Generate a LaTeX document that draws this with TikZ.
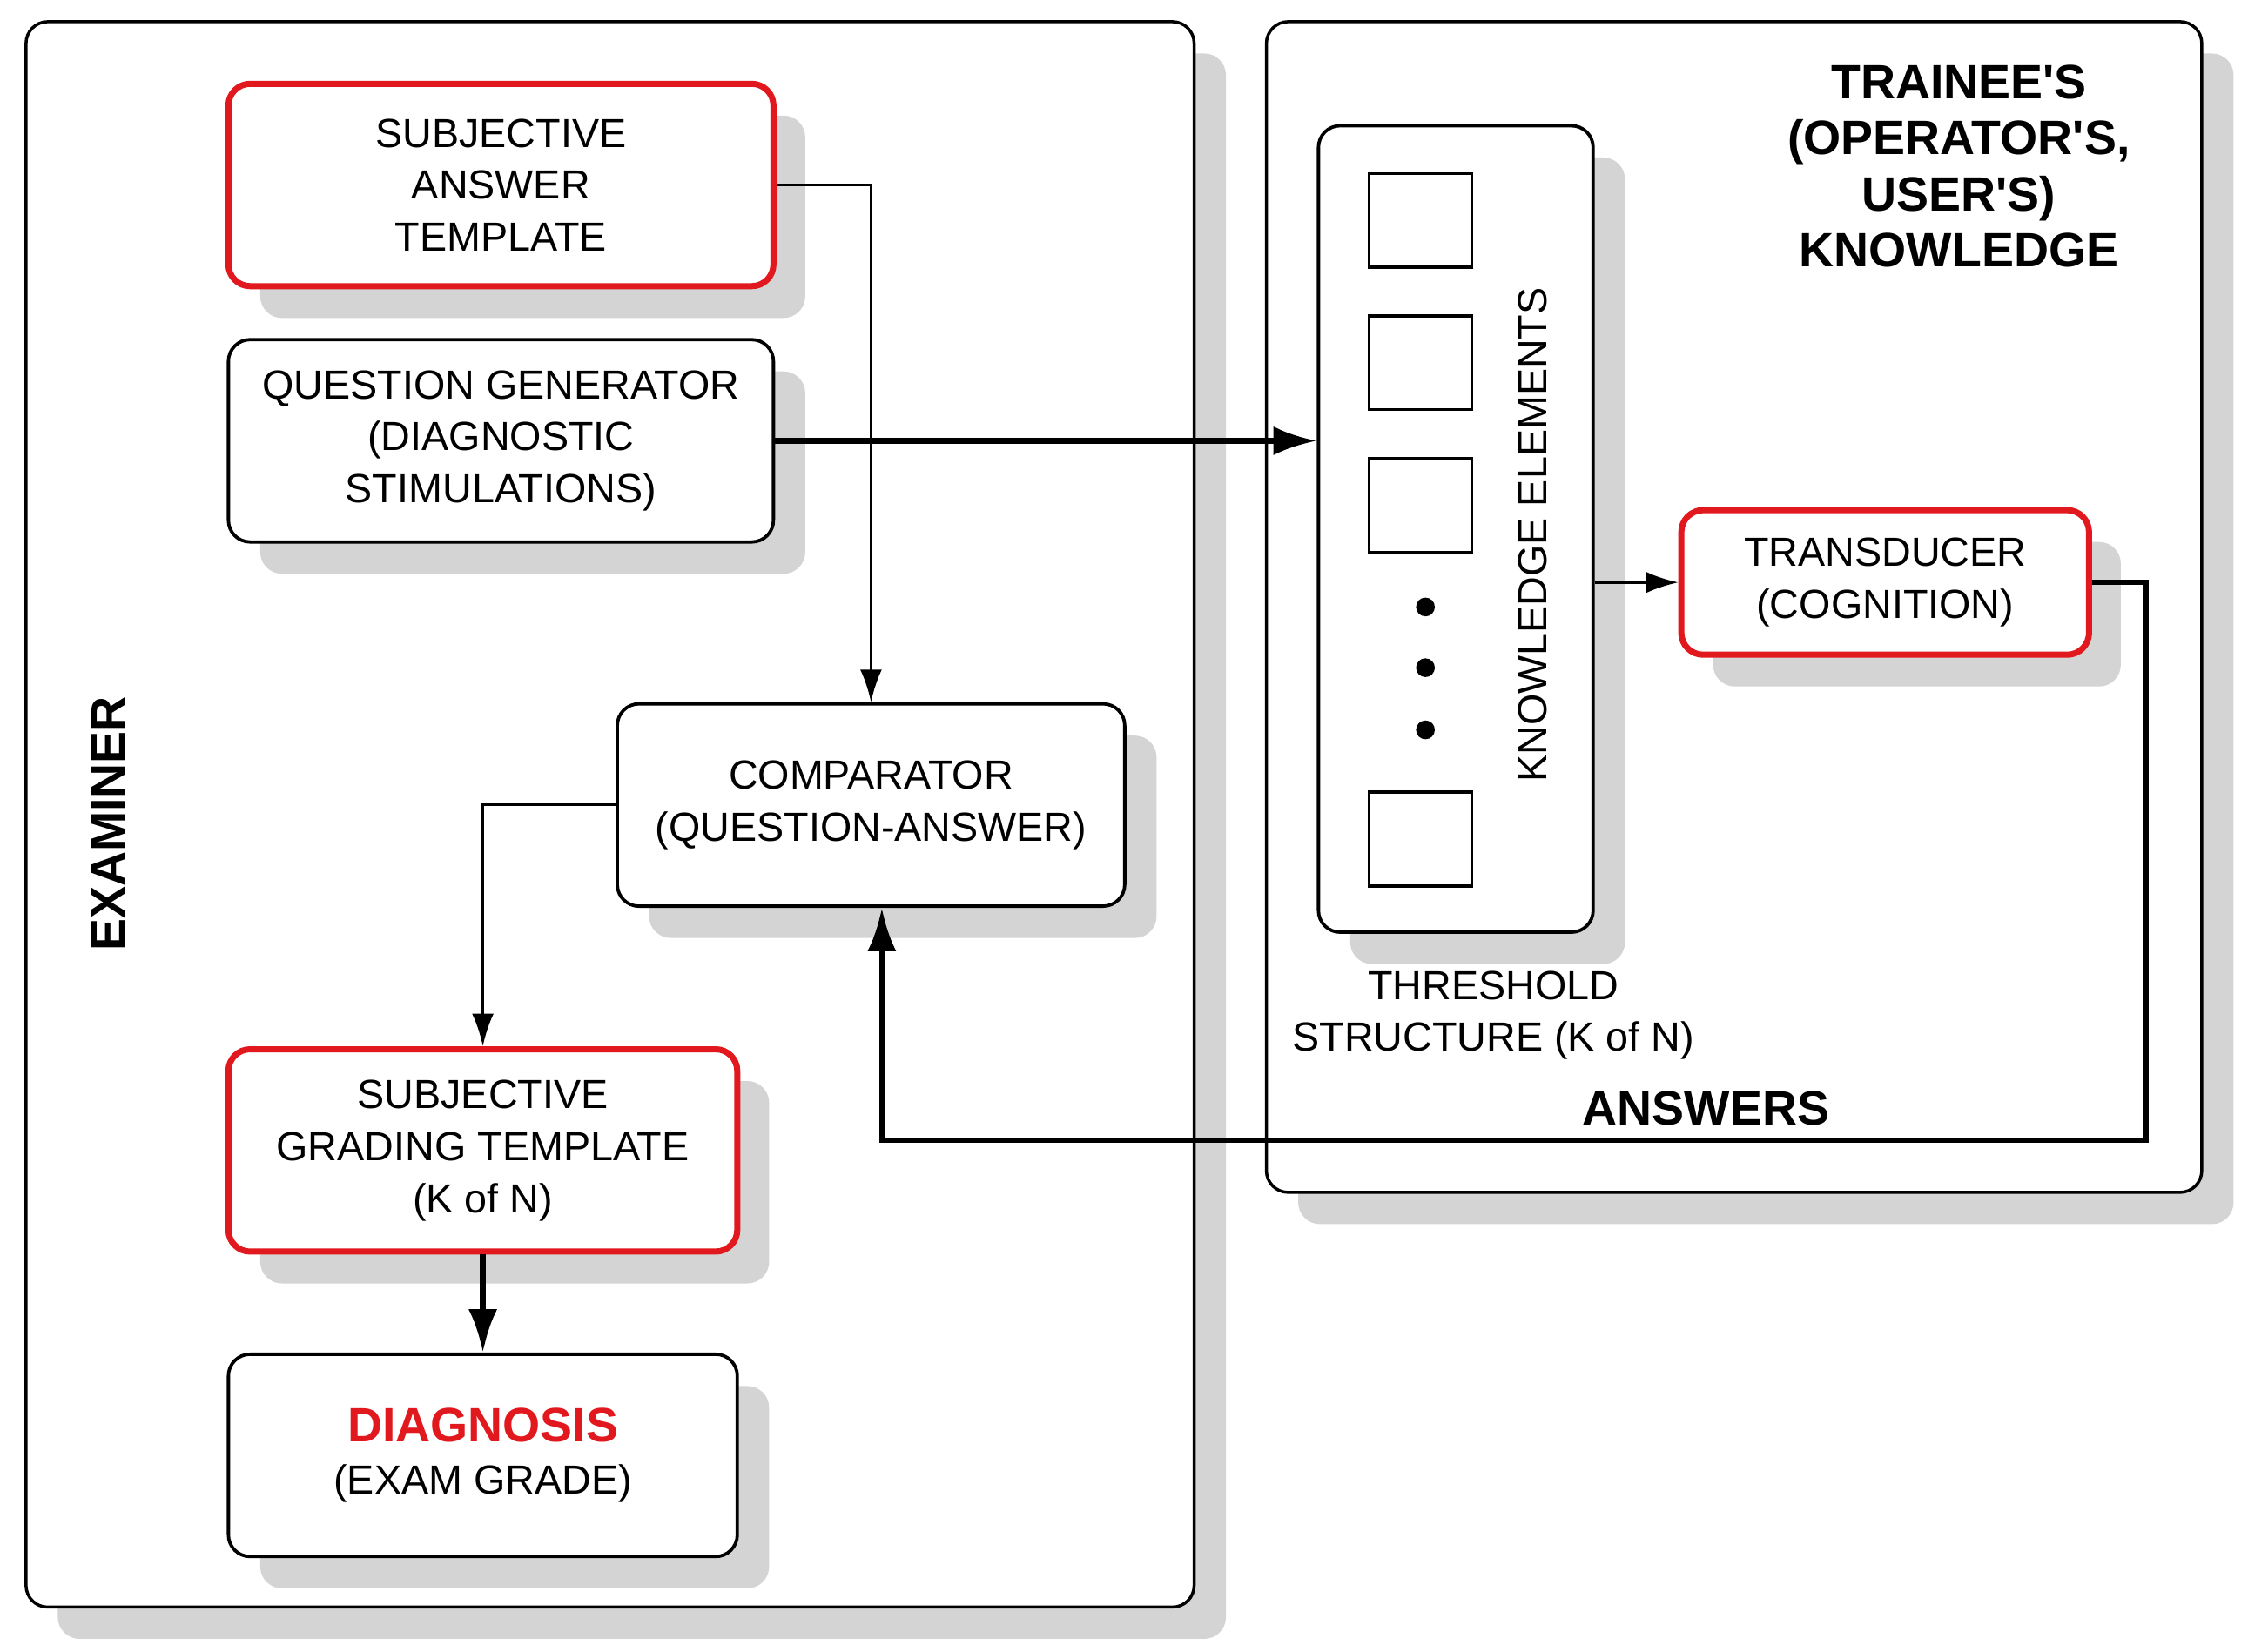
\documentclass[tikz,border=0pt]{standalone}
\usepackage{fontspec}
\setmainfont{Liberation Sans}[Mapping=]
\usetikzlibrary{positioning,shadows,arrows.meta}
\definecolor{boxred}{RGB}{225,25,30}
\definecolor{shade}{RGB}{212,212,212}
\newcommand{\apos}{\char"0027\relax}
\tikzstyle{shadowed} = [drop shadow={shadow xshift=0.44cm, shadow yshift=-0.44cm, fill=shade, opacity=1}]
\tikzstyle{panel} = [draw, line width=1.2pt, rounded corners=0.3cm, fill=white, shadowed, inner sep=0]
\tikzstyle{block} = [draw, line width=1.3pt, rounded corners=0.3cm, fill=white, shadowed, align=center, inner sep=0, minimum height=2.8cm, font=\fontsize{16}{20.5}\selectfont]
\tikzstyle{redblock} = [block, draw=boxred, line width=2.4pt]
\tikzstyle{elem} = [draw, line width=1.2pt, minimum width=1.42cm, minimum height=1.3cm, inner sep=0]
\tikzstyle{thin} = [line width=1pt, -{Latex[length=0.45cm, width=0.3cm]}]
\tikzstyle{thick} = [line width=2.2pt, -{Latex[length=0.6cm, width=0.4cm]}]
\tikzstyle{title} = [font=\fontsize{19}{22}\selectfont\bfseries, align=center]

\begin{document}
\begin{tikzpicture}
    \useasboundingbox (0,0) rectangle (31.1,-22.86);
    % panels
    \node[panel, minimum width=16.16cm, minimum height=21.94cm] (examiner) at (8.44,-11.27) {};
    \node[panel, minimum width=12.94cm, minimum height=16.2cm] (trainee) at (23.99,-8.4) {};
    \node[title, rotate=90] (examinerlbl) at (1.5,-11.4) {EXAMINER};
    \node[title] (traineelbl) at (27.1,-2.3) {TRAINEE\apos S\\(OPERATOR\apos S,\\USER\apos S)\\KNOWLEDGE};
    % examiner blocks
    \node[redblock, minimum width=7.54cm] (answer) at (6.93,-2.56) {SUBJECTIVE\\ANSWER\\TEMPLATE};
    \node[block, minimum width=7.54cm] (question) at (6.93,-6.1) {QUESTION GENERATOR\\(DIAGNOSTIC\\STIMULATIONS)};
    \node[block, minimum width=7.02cm] (comparator) at (12.05,-11.14) {COMPARATOR\\(QUESTION-ANSWER)};
    \node[redblock, minimum width=7.04cm] (grading) at (6.68,-15.92) {SUBJECTIVE\\GRADING TEMPLATE\\(K of N)};
    \node[block, minimum width=7.04cm] (diagnosis) at (6.68,-20.14) {{\fontsize{19}{22}\selectfont\bfseries\color{boxred}DIAGNOSIS}\\(EXAM GRADE)};
    % knowledge elements
    \node[block, minimum width=3.8cm, minimum height=11.16cm] (elements) at (20.14,-7.32) {};
    \node[elem] (e1) at (19.65,-3.05) {};
    \node[elem] (e2) at (19.65,-5.02) {};
    \node[elem] (e3) at (19.65,-7.0) {};
    \node[elem] (en) at (19.65,-11.61) {};
    \foreach \y in {-8.4,-9.24,-10.1}
        \fill (19.72,\y) circle (0.13);
    \node[rotate=90, font=\fontsize{16}{20}\selectfont] (kelbl) at (21.2,-7.4) {KNOWLEDGE ELEMENTS};
    \node[align=center, font=\fontsize{16}{20.5}\selectfont] (threshold) at (20.66,-14.05) {THRESHOLD\\STRUCTURE (K of N)};
    \node[redblock, minimum width=5.64cm, minimum height=2cm] (transducer) at (26.08,-8.06) {TRANSDUCER\\(COGNITION)};
    \node[title] (answers) at (23.6,-15.34) {ANSWERS};
    % connectors
    \draw[thin] (answer.east) -| (comparator.north);
    \draw[thick] (question.east) -- (elements.west |- question.east);
    \draw[thin] (comparator.west) -| (grading.north);
    \draw[thin] (elements.east |- transducer.west) -- (transducer.west);
    \draw[thick] (transducer.east) -- ++(0.74,0) |- (12.2,-15.78) -- (comparator.south -| 12.2,0);
    \draw[thick] (grading.south) -- (diagnosis.north);
\end{tikzpicture}
\end{document}
